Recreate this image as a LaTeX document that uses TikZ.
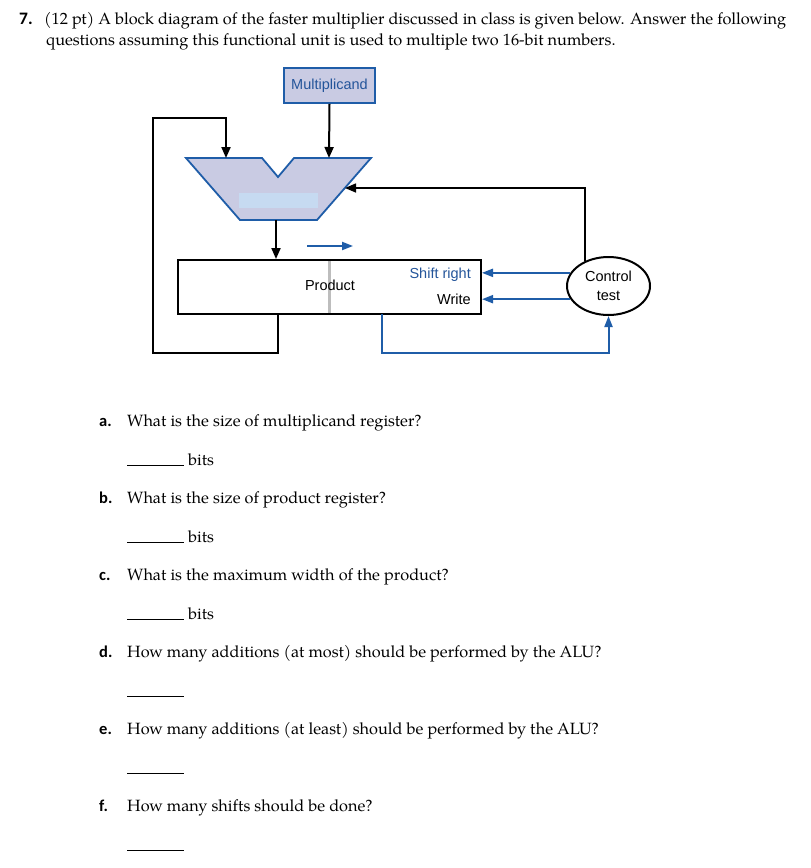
\documentclass[tikz,border=0pt]{standalone}
\usepackage{fontspec}
\setmainfont{TeX Gyre Pagella}
\newfontfamily\diagfont{Liberation Sans}
\newfontfamily\labfont{Carlito}
\usetikzlibrary{arrows.meta,shapes.geometric,calc}
\definecolor{lineblue}{HTML}{1F5DA8}
\definecolor{textblue}{HTML}{24559A}
\definecolor{alufill}{HTML}{C9CBE3}
\definecolor{aluinner}{HTML}{C6DAF1}
\definecolor{sepgray}{HTML}{BDBDBD}
\tikzset{
  blk/.style={line width=2pt, draw=black},
  arr/.style={blk, -{Triangle[length=11pt,width=9pt]}},
  barr/.style={line width=2pt, draw=lineblue, -{Triangle[length=11pt,width=8pt,fill=lineblue]}},
  dlabel/.style={font=\diagfont\fontsize{14.5}{16}\selectfont, inner sep=0pt},
  body/.style={font=\fontsize{16.3}{21}\selectfont, inner sep=0pt, anchor=base west},
  qlab/.style={font=\labfont\bfseries\fontsize{16.5}{18}\selectfont, inner sep=0pt, anchor=base west},
}
\begin{document}
\begin{tikzpicture}[x=1pt,y=-1pt]
\useasboundingbox[fill=white] (0,0) rectangle (811,868);

% header text
\node[qlab, font=\labfont\bfseries\fontsize{17.5}{19}\selectfont] (num) at (19,24) {7.};
\node[body] (l1) at (44,24) {(12 pt) A block diagram of the faster multiplier discussed in class is given below. Answer the following};
\node[body] (l2) at (46,45) {questions assuming this functional unit is used to multiple two 16-bit numbers.};

% Multiplicand
\node[draw=lineblue, fill=alufill, line width=1.8pt, minimum width=91pt, minimum height=35pt, inner sep=0pt,
      font=\diagfont\fontsize{14.5}{16}\selectfont, text=textblue] (mult) at (329.5,85.5) {Multiplicand};

% ALU
\coordinate (aluA) at (226,158);
\coordinate (aluB) at (329,158);
\coordinate (aluR) at (345,188);
\coordinate (aluOut) at (276,220);
\draw[draw=lineblue, fill=alufill, line width=1.8pt, line join=miter]
  (186,158) -- (262,158) -- (278,177) -- (294,158) -- (371,158) -- (317,220) -- (240,220) -- cycle;
\fill[aluinner] (239,193) rectangle (318,208);

% Product register
\node[blk, minimum width=303pt, minimum height=54pt, inner sep=0pt] (prod) at (329.5,287) {};
\draw[sepgray, line width=3pt] (329,261) -- (329,313);
\node[dlabel] (prodlab) at (330,285) {Product};
\node[dlabel, text=textblue, anchor=east] (shr) at (471,275) {Shift right};
\node[dlabel, anchor=east] (wr) at (471,299) {Write};

% Control
\node[blk, ellipse, minimum width=83pt, minimum height=58pt, inner sep=0pt, align=center,
      font=\diagfont\fontsize{14.5}{19}\selectfont] (ctl) at (608.5,286) {Control\\test};

% connectors
\draw[arr] (mult.south) -- (aluB);
\coordinate (pl) at (278,314);
\draw[arr, line join=miter] (pl) -- (278,353) -- (153,353) -- (153,118) -- (226,118) -- (aluA);
\draw[arr] (aluOut) -- (aluOut |- prod.north);
\draw[arr, line width=1.5pt, line join=miter] (ctl.133) |- (aluR);
\draw[barr] (ctl.161) -- (ctl.161 -| prod.east);
\draw[barr] (ctl.199) -- (ctl.199 -| prod.east);
\coordinate (pb) at (382,314);
\draw[barr, line join=miter] (pb) -- (382,353) -| (ctl.south);
\coordinate (sa) at (307,246);
\coordinate (sb) at (353,246);
\draw[barr] (sa) -- (sb);

% questions
\node[qlab] (qa) at (99,426) {a.};
\node[body] (ta) at (127,426) {What is the size of multiplicand register?};
\node[body] (ba) at (127,465) {\rule[-1pt]{57pt}{0.8pt}\hspace{4pt}bits};
\node[qlab] (qb) at (99,503) {b.};
\node[body] (tb) at (127,503) {What is the size of product register?};
\node[body] (bb) at (127,542) {\rule[-1pt]{57pt}{0.8pt}\hspace{4pt}bits};
\node[qlab] (qc) at (99,580) {c.};
\node[body] (tc) at (127,580) {What is the maximum width of the product?};
\node[body] (bc) at (127,619) {\rule[-1pt]{57pt}{0.8pt}\hspace{4pt}bits};
\node[qlab] (qd) at (99,657) {d.};
\node[body] (td) at (127,657) {How many additions (at most) should be performed by the ALU?};
\node[body] (bd) at (127,696) {\rule[-1pt]{57pt}{0.8pt}};
\node[qlab] (qe) at (99,734) {e.};
\node[body] (te) at (127,734) {How many additions (at least) should be performed by the ALU?};
\node[body] (be) at (127,773) {\rule[-1pt]{57pt}{0.8pt}};
\node[qlab] (qf) at (99,811) {f.};
\node[body] (tf) at (127,811) {How many shifts should be done?};
\node[body] (bf) at (127,850) {\rule[-1pt]{57pt}{0.8pt}};
\end{tikzpicture}
\end{document}
